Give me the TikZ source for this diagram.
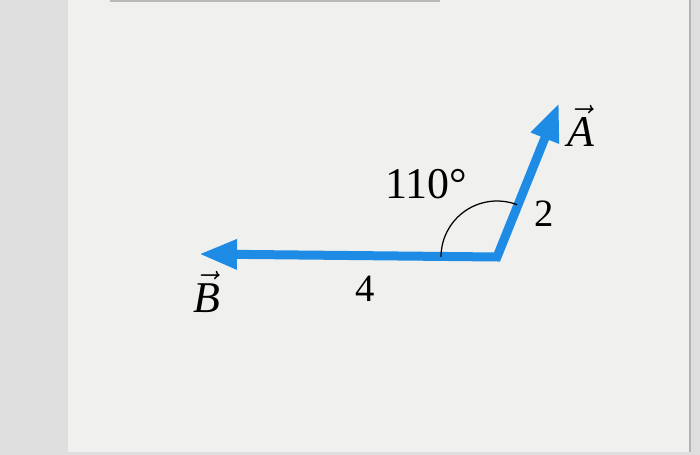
\documentclass[tikz,border=0pt]{standalone}
\usepackage{fontspec}
\setmainfont{Liberation Serif}
\usepackage{tikz}
\usetikzlibrary{arrows.meta}
\definecolor{vecblue}{RGB}{30,140,228}
\definecolor{paper}{RGB}{240,240,238}
\definecolor{desk}{RGB}{222,222,222}

\begin{document}
\begin{tikzpicture}[x=0.02cm,y=-0.02cm,
    every node/.style={font=\rmfamily\fontsize{25}{30}\selectfont, inner sep=0pt},
    num/.style={font=\rmfamily\fontsize{22}{26}\selectfont},
    vec/.style={line width=0.18cm, draw=vecblue, line join=miter,
      {Triangle[length=0.76cm,width=0.56cm]}-{Triangle[length=0.76cm,width=0.56cm]}}]
        \useasboundingbox (0,0) rectangle (700,455);
        % photo background
        \fill[desk] (0,0) rectangle (700,455);
        \fill[paper] (68,0) rectangle (690,452);
        \fill[gray!55] (110,0) rectangle (440,2);
        \draw[gray!60, line width=0.04cm] (690,0) -- (690,452);
        % the two vectors
        \coordinate (O) at (497,257);
        \coordinate (Btip) at (199,254);
        \coordinate (Atip) at (559,103);
        \draw[vec] (Btip) -- (O) -- (Atip);
        % angle between them
        \draw[line width=0.025cm] (O) ++(-56,0) arc[start angle=180, end angle=291, radius=56];
        \node (ang) at (426,184) {110°};
        \node[num] (lenA) at (544,214) {2};
        \node[num] (lenB) at (365,289) {4};
        \node (labA) at (581,126) {$\vec{\textit{A}}$};
        \node (labB) at (207,292) {$\vec{\textit{B}}$};
    \end{tikzpicture}
\end{document}
